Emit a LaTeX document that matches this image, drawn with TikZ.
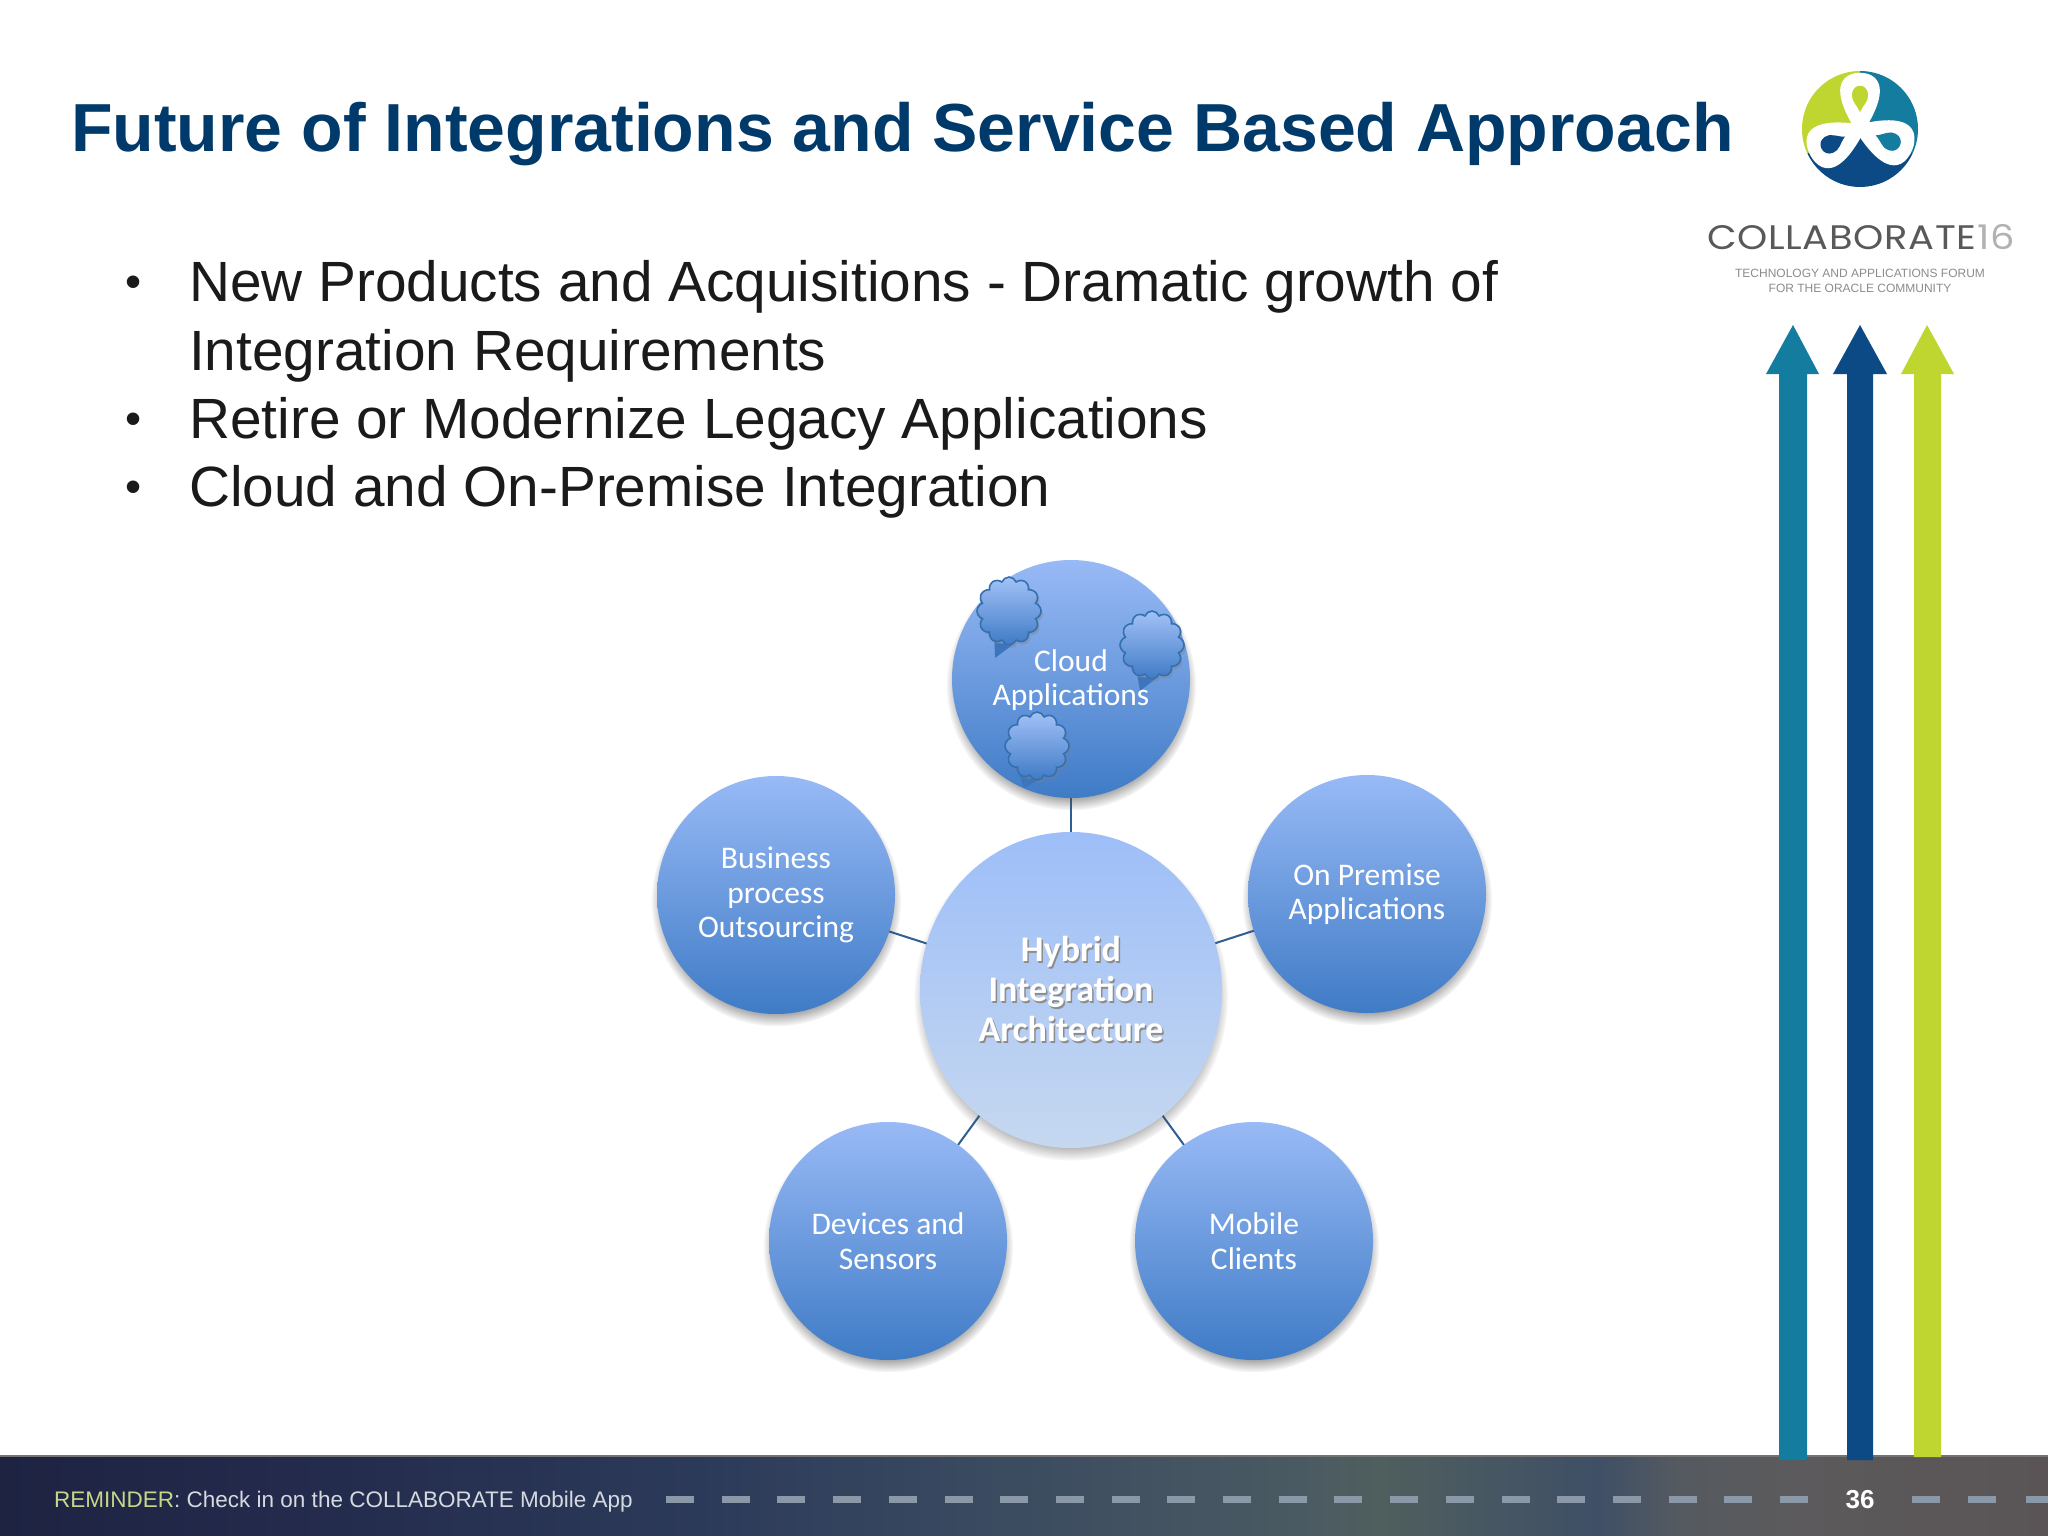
\documentclass[tikz,border=0pt]{standalone}
\usepackage{fontspec}
\setmainfont{Liberation Sans}
\newfontfamily\calibrilike{Carlito}
\newfontfamily\logofont[LetterSpace=2,FakeStretch=1.13]{Poppins}
\usetikzlibrary{shadows,fadings,shapes.geometric,shapes.symbols}
\definecolor{titleblue}{HTML}{003A6B}
\definecolor{bodygray}{HTML}{1A1A1A}
\definecolor{ringtop}{HTML}{98BAF6}
\definecolor{ringbot}{HTML}{3F7BC6}
\definecolor{hubtop}{HTML}{9DBEF8}
\definecolor{hubbot}{HTML}{C6D8F0}
\definecolor{linkblue}{HTML}{2E5F93}
\definecolor{cloudedge}{HTML}{3570AE}
\definecolor{logoteal}{HTML}{137C9F}
\definecolor{logonavy}{HTML}{0B4A85}
\definecolor{logogreen}{HTML}{BED62F}
\definecolor{dashgray}{HTML}{8A98A8}
\definecolor{barA}{HTML}{1E2342}
\definecolor{barB}{HTML}{232A4B}
\definecolor{barC}{HTML}{2C3A5A}
\definecolor{barD}{HTML}{3A4A60}
\definecolor{barE}{HTML}{4A5A62}
\definecolor{barF}{HTML}{4F5F5E}
\definecolor{barG}{HTML}{3F4F66}
\definecolor{barH}{HTML}{555A60}
\definecolor{barI}{HTML}{5C5A5C}
\definecolor{barJ}{HTML}{5A5456}
\pgfdeclarehorizontalshading{barshade}{100bp}{
 color(0bp)=(barA); color(25bp)=(barA); color(32bp)=(barB); color(42bp)=(barC);
 color(49bp)=(barD); color(56.7bp)=(barE); color(58.7bp)=(barF); color(64bp)=(barG);
 color(66bp)=(barH); color(69bp)=(barI); color(75bp)=(barJ); color(100bp)=(barJ)}
\pgfdeclarelayer{back}\pgfdeclarelayer{mid}\pgfdeclarelayer{top}\pgfdeclarelayer{labels}
\pgfsetlayers{back,main,mid,top,labels}
\tikzset{
 ring/.style={circle,minimum size=238pt,inner sep=0pt,top color=ringtop,bottom color=ringbot,text=white,
   align=center,font=\calibrilike\fontsize{31.5}{34.5}\selectfont,
   circular drop shadow={shadow xshift=0pt,shadow yshift=-6pt,shadow scale=1.05,opacity=.7,fill=black!70}},
 hub/.style={ellipse,minimum width=302pt,minimum height=316pt,inner sep=0pt,top color=hubtop,bottom color=hubbot,
   circular drop shadow={shadow xshift=0pt,shadow yshift=-6pt,shadow scale=1.04,opacity=.7,fill=black!70}},
 hubtext/.style={align=center,inner sep=0pt,font=\calibrilike\bfseries\fontsize{36}{40}\selectfont},
 link/.style={draw=linkblue,line width=2pt},
 puff/.style={cloud,cloud puffs=12,cloud puff arc=140,aspect=.95,minimum width=64pt,minimum height=68pt,inner sep=0pt,
   draw=cloudedge,line width=1.6pt,top color=ringtop!90!white,bottom color=ringbot,
   drop shadow={shadow xshift=2pt,shadow yshift=-3pt,opacity=.35}},
 puffail/.style={fill=ringbot!95!black},
 bodytext/.style={anchor=base west,inner sep=0pt,text=bodygray,font=\fontsize{56.75}{68}\selectfont},
 bullettext/.style={anchor=base west,inner sep=0pt,text=bodygray,font=\fontsize{46}{68}\selectfont},
 titletext/.style={anchor=base west,inner sep=0pt,text=titleblue,font=\bfseries\fontsize{68}{72}\selectfont},
 footer/.style={anchor=base west,inner sep=0pt,font=\fontsize{22.5}{26}\selectfont},
}
\begin{document}
\begin{tikzpicture}[x=1pt,y=-1pt]
\useasboundingbox (0,0) rectangle (2048,1536);
\begin{pgfonlayer}{back}
\fill[white] (0,0) rectangle (2048,1536);
\end{pgfonlayer}

% title and bullets
\node[titletext] (title) at (71,152) {Future of Integrations and Service Based Approach};
\node[bullettext] (b1) at (125,297) {•};
\node[bodytext] (l1) at (189,301) {New Products and Acquisitions - Dramatic growth of};
\node[bodytext] (l1b) at (189,370) {Integration Requirements};
\node[bullettext] (b2) at (125,434) {•};
\node[bodytext] (l2) at (189,438) {Retire or Modernize Legacy Applications};
\node[bullettext] (b3) at (125,502) {•};
\node[bodytext] (l3) at (189,506) {Cloud and On-Premise Integration};

% footer bar
\shade[shading=barshade] (0,1455) rectangle (2048,1536);
\fill[black!55] (0,1455) rectangle (2048,1457);

% arrows
\fill[logoteal] (1793,325) -- (1819,374) -- (1807,374) -- (1807,1460) -- (1779,1460) -- (1779,374) -- (1766,374) -- cycle;
\fill[logonavy] (1860,325) -- (1887,374) -- (1873,374) -- (1873,1460) -- (1847,1460) -- (1847,374) -- (1833,374) -- cycle;
\fill[logogreen] (1927,325) -- (1954,374) -- (1941,374) -- (1941,1457) -- (1914,1457) -- (1914,374) -- (1901,374) -- cycle;

\foreach \d in {666,721.7,777.4,833.1,888.8,944.5,1000.2,1055.9,1111.6,1167.3,1223,1278.7,1334.4,1390.1,1445.8,1501.5,1557.2,1612.9,1668.6,1724.3,1780,1912,1968,2026}
  \fill[dashgray] (\d,1496) rectangle ++(28,7);
\node[footer] (rem) at (54,1507) {\textcolor[HTML]{C8D68A}{REMINDER}\textcolor[HTML]{D5D9E0}{: Check in on the COLLABORATE Mobile App}};
\node[anchor=base,inner sep=0pt,text=white,font=\bfseries\fontsize{26}{30}\selectfont] (pageno) at (1860,1508) {36};

% logo
\begin{scope}[shift={(1860,129)},x=1pt,y=1pt]
  \fill[logogreen] (0,0) -- (90:58) arc (90:205:58) -- cycle;
  \fill[logoteal] (0,0) -- (90:58) arc (90:-25:58) -- cycle;
  \fill[logonavy] (0,0) -- (205:58) arc (205:335:58) -- cycle;
  \foreach \r/\c/\s in {0/logogreen/1,117/logonavy/1.12,-112/logoteal/1.12}{
    \begin{scope}[rotate=\r,xscale=\s]
      \fill[white] (0,-8) .. controls (-12,10) and (-28,38) .. (-15,51) .. controls (-8,58) and (8,58) .. (15,51) .. controls (28,38) and (12,10) .. (0,-8) -- cycle;
      \fill[\c] (0,17) .. controls (-3,24) and (-9,28) .. (-8,35) .. controls (-7,46) and (7,46) .. (8,35) .. controls (9,28) and (3,24) .. (0,17) -- cycle;
    \end{scope}}
\end{scope}
\node[inner sep=0pt,anchor=base west,text=black!65,font=\logofont\fontsize{34}{36}\selectfont] (brand) at (1707,249) {COLLABORATE\kern1pt\textcolor{black!30}{16}};
\node[inner sep=0pt,align=center,text=black!45,font=\fontsize{12}{15}\selectfont] (tag) at (1860,281) {TECHNOLOGY AND APPLICATIONS FORUM\\FOR THE ORACLE COMMUNITY};

% diagram
\node[ring] (cloudapps) at (1071,679) {};
\node[ring] (onprem) at (1367,894) {On Premise\\Applications};
\node[ring] (bpo) at (776,895) {Business\\process\\Outsourcing};
\node[ring] (devices) at (888,1241) {Devices and\\Sensors};
\node[ring] (mobile) at (1254,1241) {Mobile\\Clients};
\node[hub] (hubc) at (1071,990) {};
\node[hubtext,text=black!45] (hubshade) at (1072.5,990.5) {Hybrid\\Integration\\Architecture};
\node[hubtext,text=white] (hublabel) at (1071,989) {Hybrid\\Integration\\Architecture};

\begin{pgfonlayer}{back}
  \foreach \n in {cloudapps,onprem,bpo,devices,mobile}
    \draw[link] (hubc.center) -- (\n.center);
\end{pgfonlayer}

\begin{pgfonlayer}{top}
  \node[puff] (c1) at (1009,611) {};
  \node[puff] (c2) at (1152,645) {};
  \node[puff] (c3) at (1037,746) {};
\end{pgfonlayer}
\coordinate (t1) at (995,658);
\coordinate (t2) at (1140,691);
\coordinate (t3) at (1024,788);
\begin{pgfonlayer}{mid}
  \fill[puffail] (c1.-115) -- (t1) -- (c1.-85) -- cycle;
  \fill[puffail] (c2.-115) -- (t2) -- (c2.-85) -- cycle;
  \fill[puffail] (c3.-120) -- (t3) -- (c3.-90) -- cycle;
\end{pgfonlayer}
\begin{pgfonlayer}{labels}
  \node[align=center,inner sep=0pt,text=white,font=\calibrilike\fontsize{31.5}{34.5}\selectfont] (cloudlabel) at (1071,680) {Cloud\\Applications};
\end{pgfonlayer}
\end{tikzpicture}
\end{document}
